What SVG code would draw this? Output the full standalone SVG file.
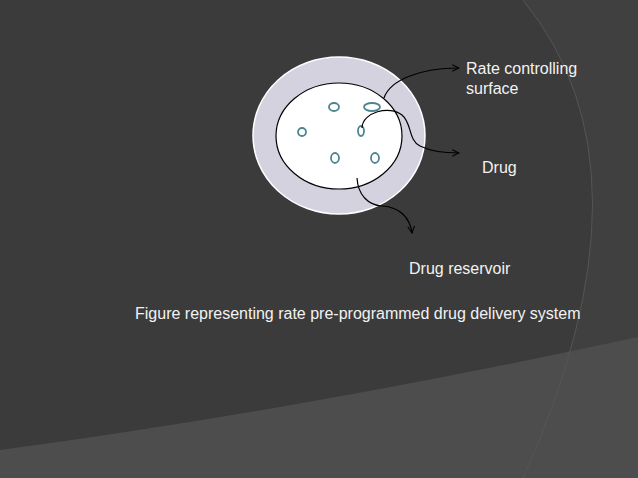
<svg xmlns="http://www.w3.org/2000/svg" width="638" height="478" viewBox="0 0 638 478">
<defs>
<style>
.t{font-family:"Liberation Sans",Arial,sans-serif;font-size:16px;fill:#f2f2f2}
.c{fill:none;stroke:#000;stroke-width:1.2}
.p{fill:none;stroke:#4d8590;stroke-width:1.8}
</style>
<marker id="a" viewBox="0 0 10 10" refX="9" refY="5" markerWidth="7" markerHeight="7" orient="auto"><path d="M1,1 L9,5 L1,9" fill="none" stroke="#000" stroke-width="1.3"/></marker>
</defs>
<rect width="638" height="478" fill="#3b3b3b"/>
<path d="M523,0 Q662,170 523,478 L638,478 L638,0 Z" fill="#404040"/>
<path d="M0,450 Q300,410 638,337 L638,478 L0,478 Z" fill="#4d4d4d"/>
<path d="M523,0 Q662,170 523,478" fill="none" stroke="#555" stroke-width="1"/>
<g id="reservoir">
<ellipse cx="339" cy="135.5" rx="86" ry="78.5" fill="#d3d2de" stroke="#fff" stroke-width="1.5"/>
<ellipse cx="339" cy="136" rx="63" ry="53" fill="#fff" stroke="#000" stroke-width="1.2"/>
</g>
<g id="drug-particles">
<ellipse class="p" cx="334" cy="107" rx="5" ry="4"/>
<ellipse class="p" cx="372" cy="107" rx="8" ry="4"/>
<ellipse class="p" cx="302" cy="132" rx="4" ry="4"/>
<ellipse class="p" cx="361" cy="131" rx="3" ry="5"/>
<ellipse class="p" cx="335" cy="158" rx="4" ry="5"/>
<ellipse class="p" cx="375" cy="158" rx="4" ry="5"/>
</g>
<g id="connectors">
<path class="c" marker-end="url(#a)" d="M384,98 C390,80 420,68 459,68"/>
<path class="c" marker-end="url(#a)" d="M362,128 C362,112 390,105 402,115 C412,123 408,140 420,146 C432,152 445,153 459,153"/>
<path class="c" marker-end="url(#a)" d="M357,178 C358,195 368,205 382,206 C400,207 410,218 412,233"/>
</g>
<g id="label-rate"><text class="t" x="466" y="74">Rate controlling</text><text class="t" x="466" y="94">surface</text></g>
<g id="label-drug"><text class="t" x="482" y="173">Drug</text></g>
<g id="label-reservoir"><text class="t" x="409" y="274">Drug reservoir</text></g>
<g id="caption"><text class="t" x="135" y="319">Figure representing rate pre-programmed drug delivery system</text></g>
</svg>
